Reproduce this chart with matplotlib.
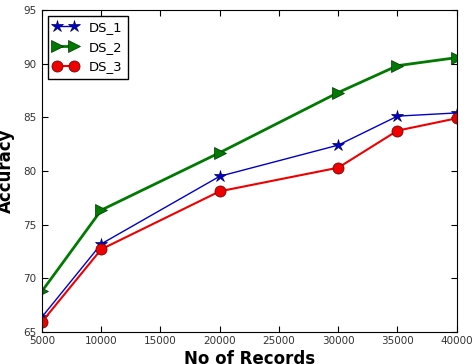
import numpy as np
import matplotlib.pyplot as plt

records = [5000, 10000, 20000, 30000, 35000, 40000]
ds_1 = [66.4, 73.2, 79.5, 82.4, 85.1, 85.4]
ds_2 = [68.8, 76.35, 81.7, 87.3, 89.8, 90.55]
ds_3 = [65.95, 72.7, 78.1, 80.3, 83.75, 84.9]

fig = plt.figure(figsize=(4.74, 3.64), dpi=100)
ax = fig.add_axes([0.0886, 0.088, 0.875, 0.885])

ax.plot(records, ds_1, "*-", color="#0000c8", lw=1, ms=9, mec="#000060", mew=0.5, label="DS_1")
ax.plot(records, ds_2, ">-", color="#007a00", lw=2, ms=8, mec="#003000", mew=0.5, label="DS_2")
ax.plot(records, ds_3, "o-", color="#ee0000", lw=1.5, ms=8, mec="#600000", mew=0.5, label="DS_3")

ax.set_xlim(5000, 40000)
ax.set_ylim(65, 95)
ax.set_xticks(np.arange(5000, 40001, 5000))
ax.set_yticks(np.arange(65, 96, 5))
ax.tick_params(direction="in", top=True, right=True, labelsize=7.5, length=4,
               labelcolor="#333333")
ax.tick_params(axis="x", pad=3)
ax.tick_params(axis="y", pad=4)

ax.set_xlabel("No of Records", fontsize=12, fontweight="bold", labelpad=3)
ax.set_ylabel("Accuracy", fontsize=12, fontweight="bold", labelpad=6)

leg = ax.legend(loc="upper left", numpoints=2, fontsize=9.5, fancybox=False,
                framealpha=1, borderaxespad=0.45, handlelength=1.9,
                labelspacing=0.5)
leg.get_frame().set_edgecolor("black")

plt.savefig("out.png", dpi=100)
